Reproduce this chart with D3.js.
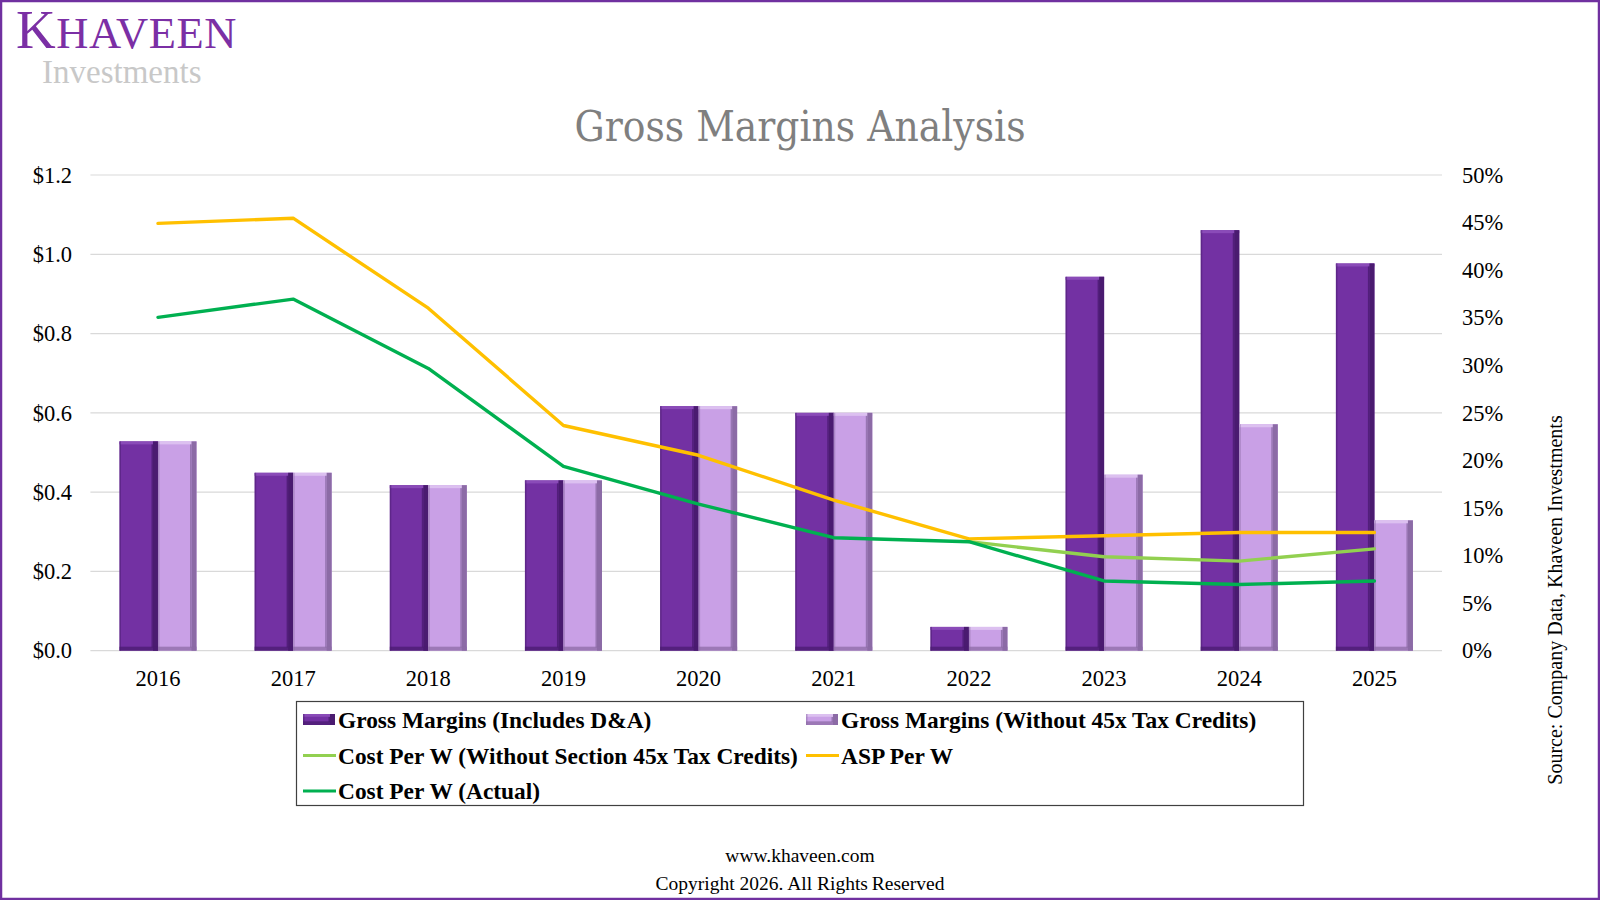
<!DOCTYPE html>
<html>
<head>
<meta charset="utf-8">
<script src="https://cdn.jsdelivr.net/npm/d3@7/dist/d3.min.js"></script>
<style>
  html, body { margin: 0; padding: 0; background: #fff; }
  svg { display: block; }
  text { font-family: "Liberation Serif", "Times New Roman", serif; }
</style>
</head>
<body>
<svg id="chart" width="1600" height="900"></svg>
<script>
// ---- data ----
const years = ["2016","2017","2018","2019","2020","2021","2022","2023","2024","2025"];
const gmIncludesDA = [22.0, 18.7, 17.4, 17.9, 25.7, 25.0, 2.5, 39.3, 44.2, 40.7];   // %
const gmWithout45x = [22.0, 18.7, 17.4, 17.9, 25.7, 25.0, 2.5, 18.5, 23.8, 13.7];   // %
const costWithout45x = [null, null, null, null, null, null, 0.275, 0.237, 0.226, 0.257]; // $/W
const aspPerW = [1.078, 1.091, 0.864, 0.568, 0.493, 0.380, 0.282, 0.290, 0.298, 0.298];   // $/W
const costActual = [0.841, 0.887, 0.712, 0.465, 0.370, 0.285, 0.275, 0.176, 0.167, 0.176]; // $/W
const leftTicks = [0, 0.2, 0.4, 0.6, 0.8, 1.0, 1.2];
const rightTicks = [0, 5, 10, 15, 20, 25, 30, 35, 40, 45, 50];

const svg = d3.select("#chart");
const W = 1600, H = 900;
const plot = { left: 90.4, right: 1442, top: 175, bottom: 650.7 };
const AXIS_FS = 22.5;

// frame
svg.append("rect").attr("x", 1).attr("y", 1).attr("width", W - 2).attr("height", H - 2)
  .attr("fill", "#fff").attr("stroke", "#7030A0").attr("stroke-width", 2.5);

// logo
const logo = svg.append("text").attr("x", 16).attr("y", 48).attr("fill", "#7B2FA5").attr("letter-spacing", 0.6);
logo.append("tspan").attr("font-size", 55).text("K");
logo.append("tspan").attr("font-size", 44.5).text("HAVEEN");
svg.append("text").attr("x", 42).attr("y", 83).attr("font-size", 33).attr("fill", "#C8C8C8").text("Investments");

// title
svg.append("text").attr("x", 800).attr("y", 141).attr("text-anchor", "middle")
  .attr("font-size", 43).attr("fill", "#7F7F7F")
  .style("font-family", "'DejaVu Serif', serif").attr("textLength", 451).attr("lengthAdjust", "spacingAndGlyphs")
  .text("Gross Margins Analysis");

// scales
const x0 = d3.scaleBand().domain(years).range([plot.left, plot.right]).paddingInner(0.43).paddingOuter(0.215);
const x1 = d3.scaleBand().domain(["a", "b"]).range([0, x0.bandwidth()]);
const yL = d3.scaleLinear().domain([0, 1.2]).range([plot.bottom, plot.top]);
const yR = d3.scaleLinear().domain([0, 50]).range([plot.bottom, plot.top]);
const cx = d => x0(d) + x0.bandwidth() / 2;

// gridlines
svg.append("g").selectAll("line").data(leftTicks).join("line")
  .attr("x1", plot.left).attr("x2", plot.right)
  .attr("y1", d => yL(d)).attr("y2", d => yL(d))
  .attr("stroke", "#D9D9D9").attr("stroke-width", 1.2);

// left axis
const axL = d3.axisLeft(yL).tickValues(leftTicks).tickFormat(d => "$" + d3.format(".1f")(d)).tickSize(0).tickPadding(0);
const gL = svg.append("g").attr("transform", `translate(${72},0)`).call(axL);
gL.select(".domain").remove();
gL.selectAll("text").attr("font-size", AXIS_FS).attr("fill", "#000").style("font-family", "'Liberation Serif', serif");

// right axis
const axR = d3.axisRight(yR).tickValues(rightTicks).tickFormat(d => d + "%").tickSize(0).tickPadding(0);
const gR = svg.append("g").attr("transform", `translate(${1462},0)`).call(axR);
gR.select(".domain").remove();
gR.selectAll("text").attr("font-size", AXIS_FS).attr("fill", "#000").style("font-family", "'Liberation Serif', serif");

// bottom axis labels
const axB = d3.axisBottom(x0).tickSize(0).tickPadding(0);
const gB = svg.append("g").attr("transform", `translate(0,${plot.bottom + 19})`).call(axB);
gB.select(".domain").remove();
gB.selectAll("text").attr("font-size", AXIS_FS).attr("fill", "#000").style("font-family", "'Liberation Serif', serif");

// bevelled bar
function bevelBar(g, x, y, w, h, base, dark, light) {
  g.append("rect").attr("x", x).attr("y", y).attr("width", w).attr("height", h).attr("fill", base);
  if (h <= 0) return;
  const e = Math.min(4, h / 3);
  g.append("rect").attr("x", x).attr("y", y).attr("width", w).attr("height", Math.min(3, h / 4)).attr("fill", light);
  g.append("rect").attr("x", x + w - 5).attr("y", y).attr("width", 5).attr("height", h).attr("fill", dark);
  g.append("rect").attr("x", x + w - 6.5).attr("y", y + 3).attr("width", 1.5).attr("height", Math.max(0, h - 6)).attr("fill", dark).attr("opacity", 0.8);
  g.append("rect").attr("x", x).attr("y", y + h - e).attr("width", w).attr("height", e).attr("fill", dark).attr("opacity", 0.75);
  g.append("rect").attr("x", x).attr("y", y).attr("width", 1.5).attr("height", h).attr("fill", dark).attr("opacity", 0.5);
}

const darkStyle = { base: "#7331A3", dark: "#4A1B70", light: "#8A4BB8" };
const lightStyle = { base: "#C9A0E6", dark: "#8C6BA6", light: "#DCC0F0" };

const barsG = svg.append("g");
years.forEach((yr, i) => {
  const g = barsG.append("g");
  const xa = x0(yr) + x1("a"), xb = x0(yr) + x1("b"), bw = x1.bandwidth();
  bevelBar(g, xa, yR(gmIncludesDA[i]), bw, yR(0) - yR(gmIncludesDA[i]), darkStyle.base, darkStyle.dark, darkStyle.light);
  bevelBar(g, xb, yR(gmWithout45x[i]), bw, yR(0) - yR(gmWithout45x[i]), lightStyle.base, lightStyle.dark, lightStyle.light);
});

// lines
const lineGen = d3.line().defined(d => d.v !== null).x(d => cx(d.k)).y(d => yL(d.v));
const series = [
  { name: "Cost Per W (Without Section 45x Tax Credits)", vals: costWithout45x, color: "#92D050" },
  { name: "ASP Per W", vals: aspPerW, color: "#FFC000" },
  { name: "Cost Per W (Actual)", vals: costActual, color: "#00B050" }
];
series.forEach(s => {
  svg.append("path").datum(years.map((k, i) => ({ k, v: s.vals[i] })))
    .attr("d", lineGen).attr("fill", "none").attr("stroke", s.color)
    .attr("stroke-width", 3.4).attr("stroke-linejoin", "round").attr("stroke-linecap", "round");
});

// legend
const lg = svg.append("g");
lg.append("rect").attr("x", 296.5).attr("y", 701.5).attr("width", 1007).attr("height", 104)
  .attr("fill", "#fff").attr("stroke", "#404040").attr("stroke-width", 1.2);
const legendItems = [
  { type: "bar", name: "Gross Margins (Includes D&A)", style: darkStyle, col: 0, row: 0 },
  { type: "bar", name: "Gross Margins (Without 45x Tax Credits)", style: lightStyle, col: 1, row: 0 },
  { type: "line", name: series[0].name, color: series[0].color, col: 0, row: 1 },
  { type: "line", name: series[1].name, color: series[1].color, col: 1, row: 1 },
  { type: "line", name: series[2].name, color: series[2].color, col: 0, row: 2 }
];
const colX = [303, 806], rowY = [720, 755.5, 791];
legendItems.forEach(it => {
  const sx = colX[it.col], sy = rowY[it.row];
  if (it.type === "bar") {
    bevelBar(lg, sx, sy - 6, 32, 11, it.style.base, it.style.dark, it.style.light);
  } else {
    lg.append("line").attr("x1", sx).attr("x2", sx + 33).attr("y1", sy).attr("y2", sy)
      .attr("stroke", it.color).attr("stroke-width", 3.2);
  }
  lg.append("text").attr("x", sx + 35).attr("y", sy + 8).attr("font-size", 23.4).attr("font-weight", "bold")
    .attr("fill", "#000").text(it.name);
});

// source text
svg.append("text").attr("transform", "translate(1562,600) rotate(-90)").attr("text-anchor", "middle")
  .attr("font-size", 20).attr("fill", "#000").text("Source: Company Data, Khaveen Investments");

// footer
svg.append("text").attr("x", 800).attr("y", 862).attr("text-anchor", "middle").attr("font-size", 19.5).attr("fill", "#000").text("www.khaveen.com");
svg.append("text").attr("x", 800).attr("y", 890).attr("text-anchor", "middle").attr("font-size", 19.5).attr("fill", "#000").text("Copyright 2026. All Rights\u2009Reserved");
</script>
</body>
</html>
